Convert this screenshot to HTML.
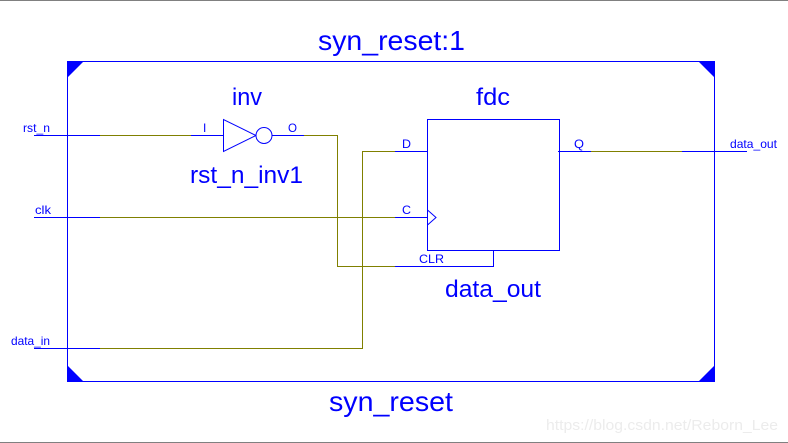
<!DOCTYPE html>
<html>
<head>
<meta charset="utf-8">
<style>
html,body{margin:0;padding:0;background:#fff;width:788px;height:443px;overflow:hidden}
svg{display:block}
text{font-family:"Liberation Sans",Arial,sans-serif;fill:#0000ff}
.s{font-size:12px}
.b{font-size:24px}
.t{font-size:28px}
.ln{fill:none;stroke:#0000ff;stroke-width:1;shape-rendering:crispEdges}
.w{fill:none;stroke:#808000;stroke-width:1;shape-rendering:crispEdges}
</style>
</head>
<body>
<svg width="788" height="443" viewBox="0 0 788 443" xmlns="http://www.w3.org/2000/svg">
<rect x="0" y="0" width="788" height="1" fill="#808080"/>
<rect x="0" y="442" width="788" height="1" fill="#808080"/>

<!-- olive wires -->
<path class="w" d="M100 135.5H191"/>
<path class="w" d="M304 135.5H337.5V266.5H395"/>
<path class="w" d="M100 217.5H395"/>
<path class="w" d="M100 348.5H362.5V151.5H395"/>
<path class="w" d="M591 151.5H682"/>

<!-- outer box -->
<rect class="ln" x="67.5" y="61.5" width="647" height="320"/>
<polygon points="67,61 84,61 67,78" fill="#0000ff"/>
<polygon points="698,61 715,61 715,78" fill="#0000ff"/>
<polygon points="67,365 67,382 84,382" fill="#0000ff"/>
<polygon points="715,365 715,382 698,382" fill="#0000ff"/>

<!-- blue wire stubs -->
<path class="ln" d="M34 135.5H100M191 135.5H223"/>
<path class="ln" d="M272 135.5H304"/>
<path class="ln" d="M34 217.5H100M395 217.5H427"/>
<path class="ln" d="M34 348.5H100"/>
<path class="ln" d="M395 151.5H427"/>
<path class="ln" d="M395 266.5H493.5V250"/>
<path class="ln" d="M558 151.5H591M682 151.5H747"/>

<!-- inverter -->
<polygon points="223.5,119.5 223.5,151.5 256,135.5" fill="none" stroke="#0000ff" stroke-width="1"/>
<circle cx="264" cy="135.5" r="8" fill="#fff" stroke="#0000ff" stroke-width="1"/>

<!-- flip-flop -->
<rect class="ln" x="427.5" y="119.5" width="132" height="131"/>
<path d="M427.5 210L436 217.5L427.5 225" fill="none" stroke="#0000ff" stroke-width="1"/>

<!-- large labels -->
<text class="t" x="318" y="50" textLength="147" lengthAdjust="spacingAndGlyphs">syn_reset:1</text>
<text class="t" x="329" y="411" textLength="124" lengthAdjust="spacingAndGlyphs">syn_reset</text>
<text class="b" x="232" y="105" textLength="30" lengthAdjust="spacingAndGlyphs">inv</text>
<text class="b" x="476" y="105" textLength="34" lengthAdjust="spacingAndGlyphs">fdc</text>
<text class="b" x="190" y="183" textLength="113" lengthAdjust="spacingAndGlyphs">rst_n_inv1</text>
<text class="b" x="445" y="297" textLength="96" lengthAdjust="spacingAndGlyphs">data_out</text>

<!-- small labels -->
<text class="s" x="23" y="132" textLength="27" lengthAdjust="spacingAndGlyphs">rst_n</text>
<text class="s" x="35" y="214" textLength="16" lengthAdjust="spacingAndGlyphs">clk</text>
<text class="s" x="11" y="345" textLength="39" lengthAdjust="spacingAndGlyphs">data_in</text>
<text class="s" x="203" y="132">I</text>
<text class="s" x="288" y="132" textLength="9" lengthAdjust="spacingAndGlyphs">O</text>
<text class="s" x="402" y="148" textLength="9" lengthAdjust="spacingAndGlyphs">D</text>
<text class="s" x="402" y="214" textLength="9" lengthAdjust="spacingAndGlyphs">C</text>
<text class="s" x="419" y="263" textLength="25" lengthAdjust="spacingAndGlyphs">CLR</text>
<text class="s" x="574" y="148" textLength="10" lengthAdjust="spacingAndGlyphs">Q</text>
<text class="s" x="730" y="148" textLength="47" lengthAdjust="spacingAndGlyphs">data_out</text>

<!-- watermark -->
<text x="546" y="430" textLength="232" lengthAdjust="spacingAndGlyphs" style="font-size:15px;fill:#ececec">https://blog.csdn.net/Reborn_Lee</text>
</svg>
</body>
</html>
